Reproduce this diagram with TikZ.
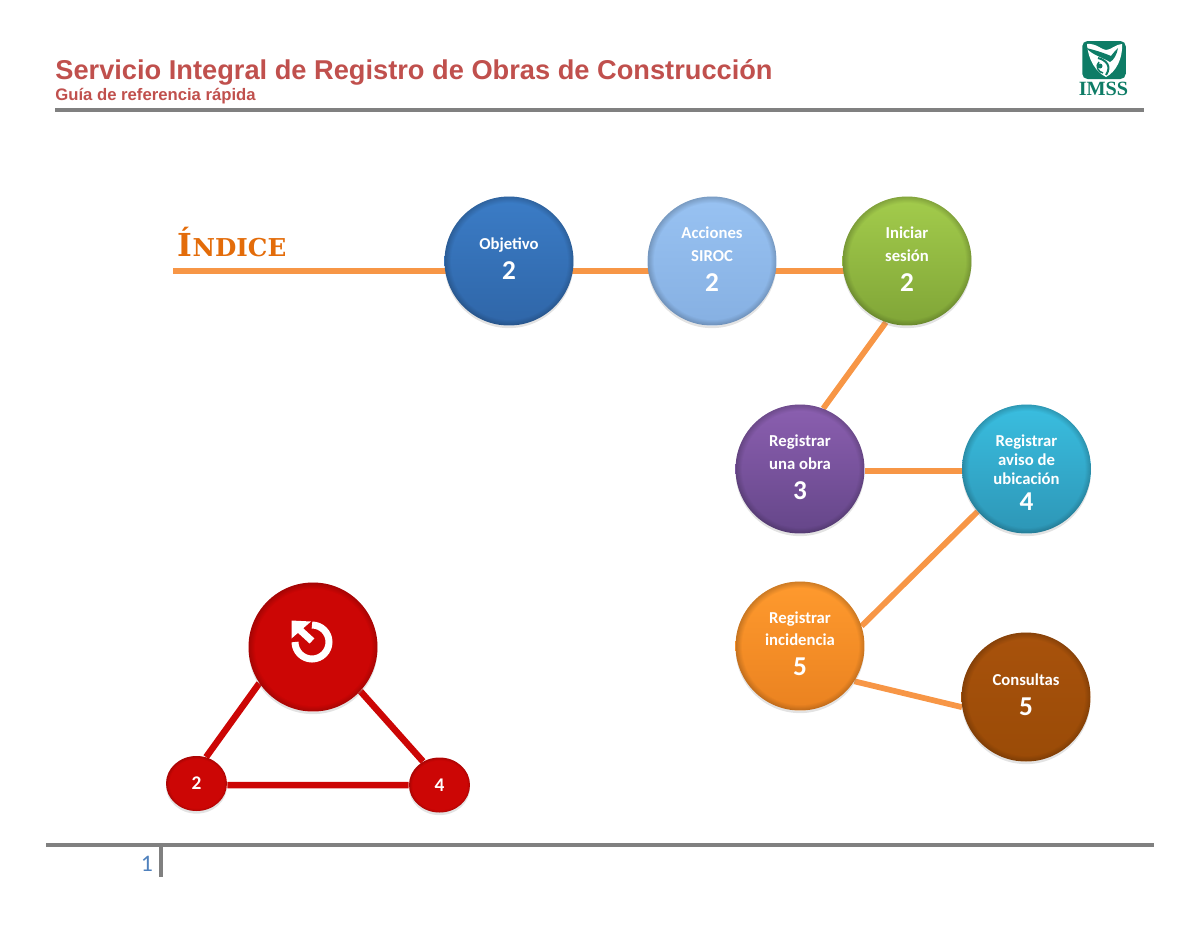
\documentclass[tikz,border=0pt]{standalone}
\usepackage{fontspec}
\setmainfont{Carlito}
\newfontfamily\headfont{Liberation Sans}
\newfontfamily\indexfont{DejaVu Serif}
\newfontfamily\logofont{Liberation Serif}
\usetikzlibrary{backgrounds,shadows,shapes.geometric,fadings}

\definecolor{headred}{HTML}{C0504D}
\definecolor{rulegray}{HTML}{808080}
\definecolor{linkorange}{HTML}{F79646}
\definecolor{indexorange}{HTML}{E36C0A}
\definecolor{navred}{HTML}{CC0605}
\definecolor{imssgreen}{HTML}{0E7C66}
\definecolor{pagenum}{HTML}{4F81BD}
\definecolor{blueA}{HTML}{3B7CC6}
\definecolor{blueB}{HTML}{2F66A8}
\definecolor{skyA}{HTML}{98C2F2}
\definecolor{skyB}{HTML}{86B0E2}
\definecolor{greenA}{HTML}{A3CC4C}
\definecolor{greenB}{HTML}{80A537}
\definecolor{purpleA}{HTML}{8B5FB0}
\definecolor{purpleB}{HTML}{654689}
\definecolor{cyanA}{HTML}{3ABEE0}
\definecolor{cyanB}{HTML}{2D96B6}
\definecolor{orangeA}{HTML}{FF9A2E}
\definecolor{orangeB}{HTML}{EA8220}
\definecolor{brownA}{HTML}{A8520C}
\definecolor{brownB}{HTML}{9A4B07}

\pgfdeclareradialshading{rimshade}{\pgfpoint{0bp}{0bp}}{color(0bp)=(black); color(22.5bp)=(black); color(25bp)=(gray); color(50bp)=(gray)}
\pgfdeclarefading{rimfade}{\pgfuseshading{rimshade}}

\tikzset{
	ball/.style n args={2}{circle, minimum size=2.58cm, inner sep=0pt, align=center,
		top color=#1, bottom color=#2, text=white, font=\bfseries\fontsize{9.5}{13.5}\selectfont,
		drop shadow={opacity=.22, shadow xshift=0pt, shadow yshift=-1.5pt},
		path picture={\fill[black, path fading=rimfade, opacity=.4] (path picture bounding box.south west) rectangle (path picture bounding box.north east);}},
	navball/.style={ellipse, minimum width=1.22cm, minimum height=1.1cm, inner sep=0pt,
		fill=navred, text=white, font=\bfseries\fontsize{11}{12}\selectfont,
		drop shadow={opacity=.22, shadow xshift=0pt, shadow yshift=-1.5pt},
		path picture={\fill[black, path fading=rimfade, opacity=.35] (path picture bounding box.south west) rectangle (path picture bounding box.north east);}},
	link/.style={linkorange, line width=.115cm},
	indexlink/.style={link, preaction={draw=black!22, transform canvas={yshift=-1.2pt}}},
	navlink/.style={navred, line width=.13cm},
	headrule/.style={rulegray, line width=.07cm},
}
\newcommand{\pagina}[2][3.5pt]{\\[#1]{\fontsize{15.5}{15.5}\selectfont #2}\rule[-2.3pt]{0pt}{2.3pt}}

\begin{document}
\begin{tikzpicture}[x=.02cm, y=-.02cm]
	\useasboundingbox (0,0) rectangle (1200,927);

	% header
	\node[anchor=base west, inner sep=0pt, text=headred, font=\headfont\bfseries\fontsize{15.5}{17}\selectfont] (titulo) at (55,79) {Servicio Integral de Registro de Obras de Construcción};
	\node[anchor=base west, inner sep=0pt, text=headred, font=\headfont\bfseries\fontsize{9.5}{11}\selectfont] (subtitulo) at (55,100) {Guía de referencia rápida};
	\draw[headrule] (55,110) -- (1144,110);

	% logo
	\node[fill=imssgreen, rounded corners=3pt, minimum width=.87cm, minimum height=.76cm, inner sep=0pt] (escudo) at (1104,60) {};
	\fill[white] (1087,44) .. controls (1096,43) and (1102,50) .. (1106,50) .. controls (1111,50) and (1116,44) .. (1122,44) .. controls (1123,58) and (1116,72) .. (1106,77) .. controls (1096,72) and (1088,60) .. (1087,44) -- cycle;
	\fill[imssgreen] (1086,48) .. controls (1095,50) and (1104,53) .. (1111,56) .. controls (1114,52) and (1116,50) .. (1118,48) .. controls (1117,54) and (1114,60) .. (1110,62) .. controls (1104,58) and (1094,56) .. (1086,48) -- cycle;
	\draw[imssgreen, line width=.04cm] (1098,58) .. controls (1106,60) and (1112,66) .. (1106,75);
	\draw[imssgreen, line width=.03cm] (1099,62) .. controls (1095,66) and (1098,72) .. (1103,73);
	\fill[imssgreen] (1100,66) circle (2.5);
	\node[text=imssgreen, inner sep=0pt, font=\logofont\bfseries\fontsize{11.5}{12}\selectfont] (siglas) at (1103.5,89) {IMSS};

	% index
	\node[anchor=base west, inner sep=0pt, text=indexorange, font=\indexfont\bfseries\fontsize{14}{16}\selectfont] (indice) at (177.5,256.7) {{\fontsize{18}{18}\selectfont Í}NDICE};
	\coordinate (inicio) at (173,271);

	\node[ball={blueA}{blueB}] (objetivo) at (509,261) {Objetivo\pagina{2}};
	\node[ball={skyA}{skyB}] (acciones) at (712,261) {Acciones\\SIROC\pagina{2}};
	\node[ball={greenA}{greenB}] (iniciar) at (907,261) {Iniciar\\sesión\pagina{2}};
	\node[ball={purpleA}{purpleB}] (obra) at (800,469) {Registrar\\una obra\pagina{3}};
	\node[ball={cyanA}{cyanB}] (aviso) at (1026.5,469) {\rule{0pt}{13pt}Registrar\\[-2.6pt]aviso de\\[-2.6pt]ubicación\pagina[1.5pt]{4}};
	\node[ball={orangeA}{orangeB}] (incidencia) at (800,646) {Registrar\\[-1pt]incidencia\pagina{5}};
	\node[ball={brownA}{brownB}] (consultas) at (1026,697) {Consultas\pagina{5}};

	% navigation
	\node[ball={navred}{navred}] (inicioNav) at (313,647) {};
	\node[navball] (navDos) at (196.5,783.5) {2};
	\node[navball] (navCuatro) at (439.5,785) {4};
	\draw[white, line width=.14cm] (300,630) -- (312,641);
	\draw[white, line width=.14cm] (312,625) arc (-90:180:17);
	\fill[white] (291.5,620.5) -- (311,621.5) -- (291.5,638.5) -- cycle;

	\begin{pgfonlayer}{background}
		\draw[indexlink] (inicio) -- ([yshift=-.2cm]objetivo.center);
		\draw[indexlink] ([yshift=-.2cm]objetivo.center) -- ([yshift=-.2cm]acciones.center);
		\draw[indexlink] ([yshift=-.2cm]acciones.center) -- ([yshift=-.2cm]iniciar.center);
		\draw[link] (iniciar.-109) -- (obra.69);
		\draw[link] ([yshift=-.04cm]obra.east) -- ([yshift=-.04cm]aviso.west);
		\draw[link] (aviso.221) -- (incidencia.18);
		\draw[link] (incidencia.-33) -- (consultas.189);
		\draw[navlink] (inicioNav.214) -- (navDos.70);
		\draw[navlink] (inicioNav.-43) -- (navCuatro.125);
		\draw[navlink] ([yshift=-.03cm]navDos.east) -- (navCuatro.west);
	\end{pgfonlayer}

	% footer
	\draw[headrule, line width=.08cm] (46,845) -- (1154,845);
	\coordinate (corte) at (161,845);
	\draw[headrule, line width=.08cm] (corte) -- (161,877);
	\node[text=pagenum, inner sep=0pt, font=\fontsize{13.5}{14}\selectfont] (numero) at (147,864) {1};
\end{tikzpicture}
\end{document}
